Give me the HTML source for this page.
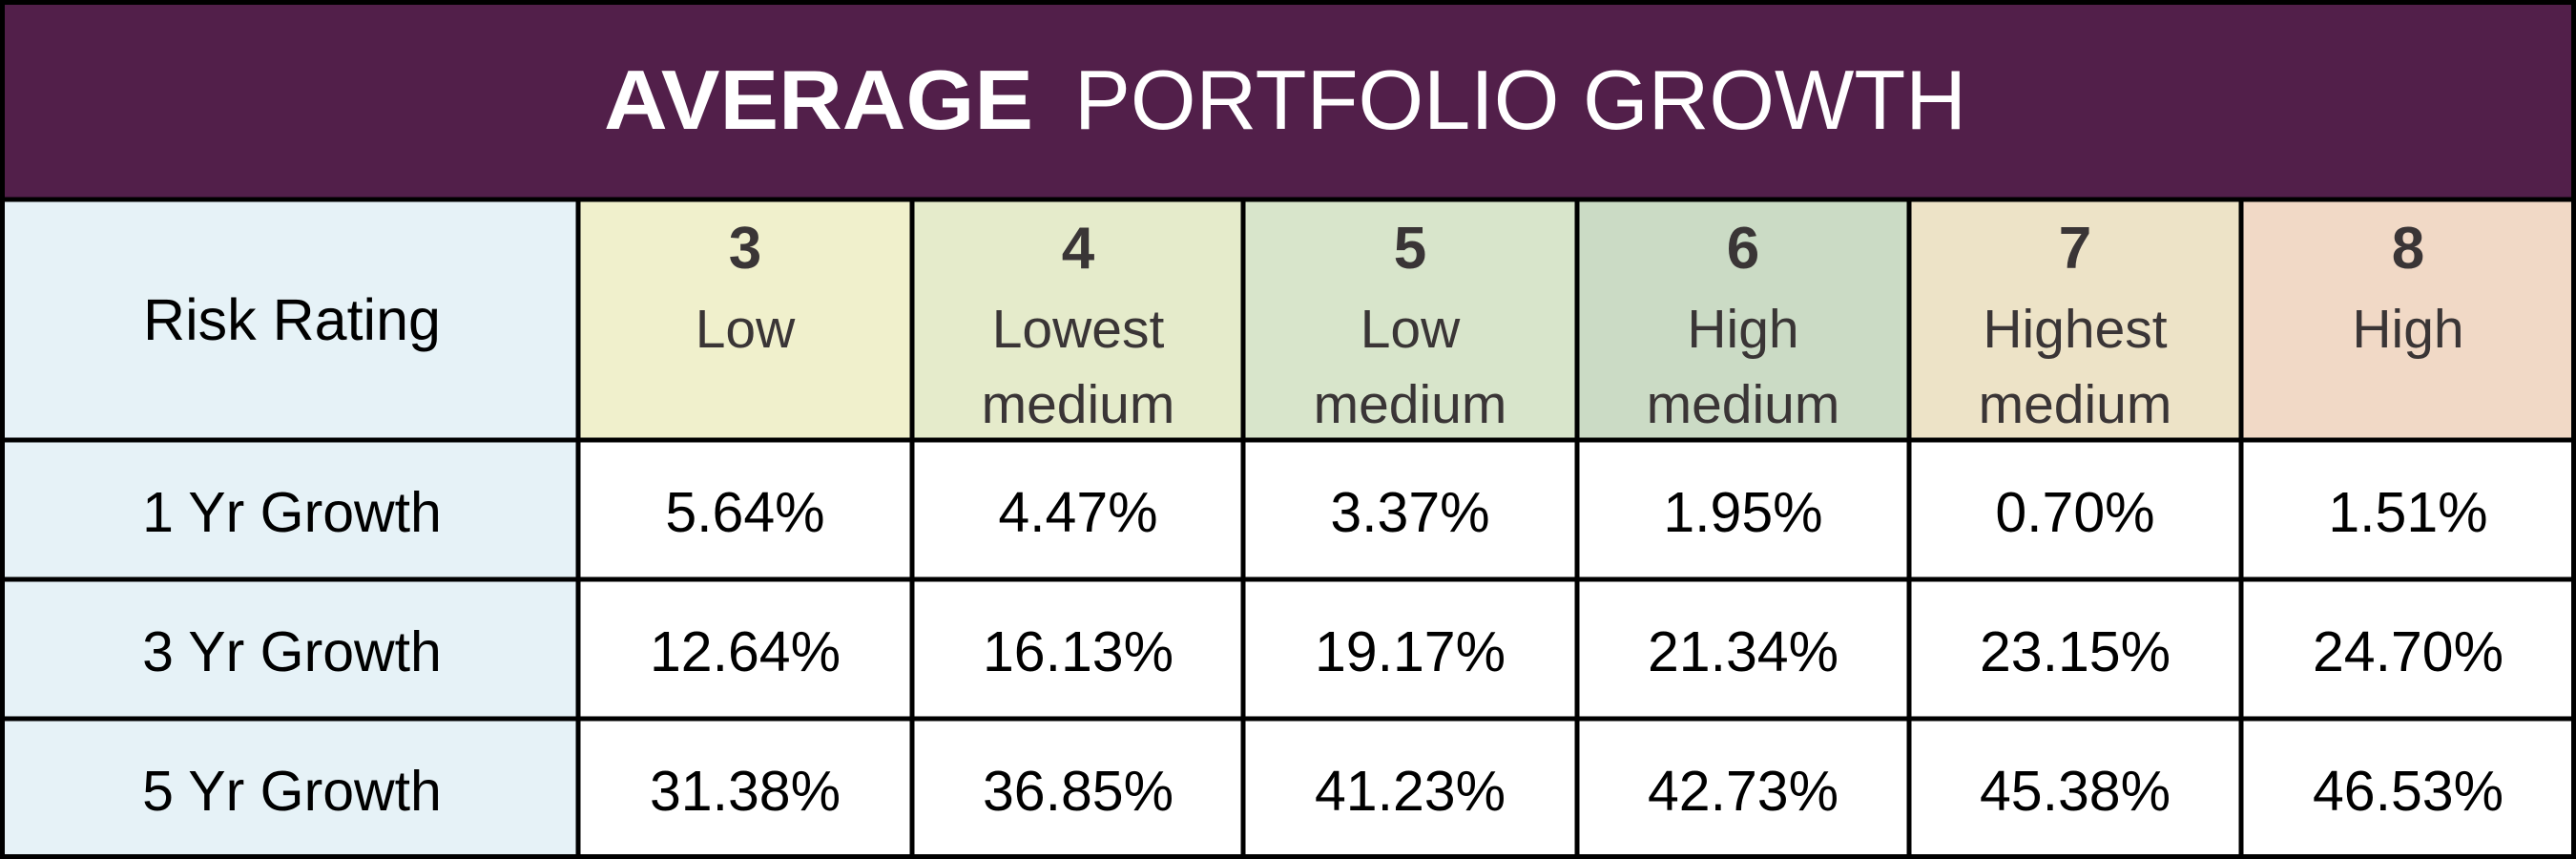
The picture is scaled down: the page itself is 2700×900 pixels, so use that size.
<!DOCTYPE html>
<html><head><meta charset="utf-8"><style>html,body{margin:0;padding:0;background:#fff}svg{display:block}</style></head><body>
<svg width="2700" height="900" viewBox="0 0 2700 900" xmlns="http://www.w3.org/2000/svg" font-family="Liberation Sans, sans-serif">
<rect x="0" y="0" width="2700" height="900" fill="#fff"/>
<rect x="0" y="0" width="2700" height="210" fill="#521f4a"/>
<text x="633" y="135" font-size="88" font-weight="bold" fill="#fff" textLength="450" lengthAdjust="spacingAndGlyphs">AVERAGE</text>
<text x="1126" y="135" font-size="88" fill="#fff" textLength="935" lengthAdjust="spacingAndGlyphs">PORTFOLIO GROWTH</text>
<rect x="0" y="210" width="606" height="690" fill="#e6f2f7"/>
<rect x="606" y="210" width="350" height="250" fill="#f0f0cc"/>
<rect x="956" y="210" width="347" height="250" fill="#e5ebcb"/>
<rect x="1303" y="210" width="350" height="250" fill="#d8e5cb"/>
<rect x="1653" y="210" width="348" height="250" fill="#cbdbc5"/>
<rect x="2001" y="210" width="348" height="250" fill="#ede3c7"/>
<rect x="2349" y="210" width="351" height="250" fill="#f1d9c6"/>
<g stroke="#000" stroke-width="5">
<line x1="0" y1="209" x2="2700" y2="209"/>
<line x1="0" y1="461" x2="2700" y2="461"/>
<line x1="0" y1="607" x2="2700" y2="607"/>
<line x1="0" y1="753" x2="2700" y2="753"/>
<line x1="606" y1="209" x2="606" y2="900"/>
<line x1="956" y1="209" x2="956" y2="900"/>
<line x1="1303" y1="209" x2="1303" y2="900"/>
<line x1="1653" y1="209" x2="1653" y2="900"/>
<line x1="2001" y1="209" x2="2001" y2="900"/>
<line x1="2349" y1="209" x2="2349" y2="900"/>
</g>
<rect x="2.5" y="2.5" width="2695" height="895" fill="none" stroke="#000" stroke-width="5"/>
<g text-anchor="middle" font-size="57" fill="#000">
<text x="306" y="356" font-size="61">Risk Rating</text>
<g fill="#3a3536">
<text x="781" y="281" font-weight="bold" font-size="62">3</text>
<text x="1130" y="281" font-weight="bold" font-size="62">4</text>
<text x="1478" y="281" font-weight="bold" font-size="62">5</text>
<text x="1827" y="281" font-weight="bold" font-size="62">6</text>
<text x="2175" y="281" font-weight="bold" font-size="62">7</text>
<text x="2524" y="281" font-weight="bold" font-size="62">8</text>
<text x="781" y="364">Low</text>
<text x="1130" y="364">Lowest</text>
<text x="1130" y="443">medium</text>
<text x="1478" y="364">Low</text>
<text x="1478" y="443">medium</text>
<text x="1827" y="364">High</text>
<text x="1827" y="443">medium</text>
<text x="2175" y="364">Highest</text>
<text x="2175" y="443">medium</text>
<text x="2524" y="364">High</text>
</g>
<g font-size="59">
<text x="306" y="557">1 Yr Growth</text>
<text x="306" y="703">3 Yr Growth</text>
<text x="306" y="849">5 Yr Growth</text>
<text x="781" y="557">5.64%</text><text x="1130" y="557">4.47%</text><text x="1478" y="557">3.37%</text><text x="1827" y="557">1.95%</text><text x="2175" y="557">0.70%</text><text x="2524" y="557">1.51%</text>
<text x="781" y="703">12.64%</text><text x="1130" y="703">16.13%</text><text x="1478" y="703">19.17%</text><text x="1827" y="703">21.34%</text><text x="2175" y="703">23.15%</text><text x="2524" y="703">24.70%</text>
<text x="781" y="849">31.38%</text><text x="1130" y="849">36.85%</text><text x="1478" y="849">41.23%</text><text x="1827" y="849">42.73%</text><text x="2175" y="849">45.38%</text><text x="2524" y="849">46.53%</text>
</g>
</g>
</svg>
</body></html>
